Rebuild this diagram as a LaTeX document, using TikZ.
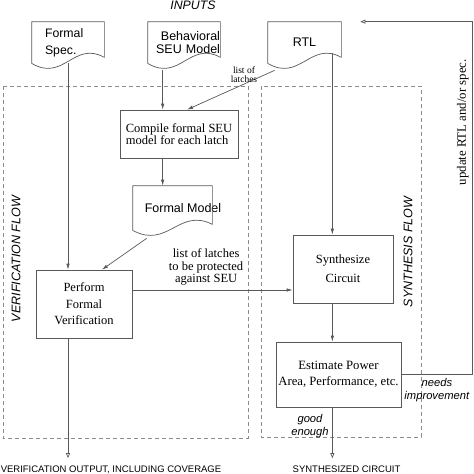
\documentclass[tikz,border=0pt]{standalone}
\usepackage{fontspec}
\setmainfont{Liberation Serif}
\setsansfont{Liberation Sans}
\usetikzlibrary{arrows.meta,calc,positioning}

\definecolor{linegray}{gray}{0.35}
\definecolor{dashgray}{gray}{0.55}

% document symbol with a wavy lower edge, drawn round a named node
\newcommand{\docshape}[1]{%
  \draw[docline] (#1.south west) -- (#1.north west) -- (#1.north east)
    -- ($(#1.south east)+(0,-6)$)
    .. controls ($(#1.south west)!0.58!(#1.south east)+(0,-23)$)
    and ($(#1.south west)!0.44!(#1.south east)+(0,19)$) .. (#1.south west);}

\begin{document}
\begin{tikzpicture}[x=1pt, y=-1pt, >={Latex[length=6pt,width=3.5pt]}, line width=0.7pt]

    \tikzstyle{proc} = [rectangle, draw=linegray, inner sep=0pt, font=\fontsize{12.5}{12.5}\selectfont]
    \tikzstyle{doc} = [rectangle, inner sep=0pt, font=\sffamily\fontsize{12.5}{13}\selectfont]
    \tikzstyle{docline} = [draw=linegray]
    \tikzstyle{flow} = [draw=dashgray, dash pattern=on 4pt off 3pt, line width=0.6pt]
    \tikzstyle{conn} = [draw=linegray, ->]
    \tikzstyle{outconn} = [draw=linegray, -{Triangle[open,length=5pt,width=4pt]}]
    \tikzstyle{flowlabel} = [font=\sffamily\itshape\fontsize{12.5}{13}\selectfont, rotate=90]
    \tikzstyle{note} = [font=\sffamily\itshape\fontsize{11.2}{13}\selectfont, align=center]
    \tikzstyle{outlabel} = [font=\sffamily\fontsize{9.5}{11}\selectfont, anchor=base]

    \useasboundingbox (0,0) rectangle (474,474);

    % the two flows
    \draw[flow] (3,86) rectangle (248,438);
    \draw[flow] (261,86) rectangle (421,437);
    \node (verlabel) [flowlabel]                 at (16,259)    {VERIFICATION FLOW};
    \node (synlabel) [flowlabel]                 at (408,252)   {SYNTHESIS FLOW};

    % inputs
    \node (inputs)  [outlabel, font=\sffamily\itshape\fontsize{12.3}{13}\selectfont] at (193,9.5) {INPUTS};
    \node (fspec)   [doc, minimum width=72pt, minimum height=41pt, text width=46pt, align=left,
                     font=\sffamily\fontsize{12.3}{17}\selectfont] at (68,42.5) {Formal\\Spec.};
    \node (bseu)    [doc, minimum width=72pt, minimum height=41pt, text width=72pt, align=right] at (184,42.5) {Behavioral\\SEU Model};
    \node (rtl)     [doc, minimum width=73pt, minimum height=41pt] at (304.5,42.5) {RTL};
    \docshape{fspec}
    \docshape{bseu}
    \docshape{rtl}

    % steps
    \node (compile)  [proc, minimum width=118pt, minimum height=48pt, align=left] at (179,134) {Compile formal SEU\\model for each latch};
    \node (fmodel)   [doc, minimum width=79pt, minimum height=44pt] at (172.5,208) {Formal Model\hspace*{-21pt}};
    \docshape{fmodel}
    \node (perform)  [proc, minimum width=96pt, minimum height=68pt, align=center,
                      font=\fontsize{12.5}{16.5}\selectfont] at (84,304) {Perform\\Formal\\Verification};
    \node (synth)    [proc, minimum width=100pt, minimum height=68pt, align=center,
                      font=\fontsize{12.5}{19}\selectfont] at (343,269) {Synthesize\\Circuit};
    \node (estimate) [proc, minimum width=125pt, minimum height=65pt, align=center,
                      font=\fontsize{12.7}{16}\selectfont] at (338.5,374.5) {Estimate Power\\Area, Performance, etc.};

    % outputs
    \node (veroutput) [outlabel] at (111,472.5)   {VERIFICATION OUTPUT, INCLUDING COVERAGE};
    \node (synoutput) [outlabel] at (346.5,472.5) {SYNTHESIZED CIRCUIT};

    \coordinate (bseuout)   at ($(bseu.south west)+(15,7)$);
    \coordinate (rtlleft)   at ($(rtl.south west)+(7,7)$);
    \coordinate (rtlout)    at ($(rtl.south east)+(-9,-10)$);
    \coordinate (fmodelout) at ($(fmodel.south west)+(14,8)$);
    \coordinate (latout)    at ($(perform.east)+(0,-14)$);
    \coordinate (fbtop)     at ($(rtl.north east)+(19,0)$);

    \draw[conn] (fspec.south) -- (fspec.south |- perform.north);
    \draw[conn] (bseuout) -- (bseuout |- compile.north);
    \draw[conn] (rtlleft) -- ([xshift=8pt]compile.north)
        node[pos=0.35, above, inner sep=1pt, align=center, font=\fontsize{9.5}{9}\selectfont] {list of\\latches};
    \draw[conn] (compile.south -| bseuout) -- (fmodel.north -| bseuout);
    \draw[conn] (fmodelout) -- ([xshift=18pt]perform.north);
    \draw[conn] (rtlout) -- (rtlout |- synth.north);
    \draw[conn] (latout) -- (latout -| synth.west)
        node[pos=0.46, above=1pt, align=center, font=\fontsize{12.5}{12.5}\selectfont] {list of latches\\to be protected\\against SEU};
    \draw[conn] (synth.south -| rtlout) -- (estimate.north -| rtlout);

    \draw[outconn, shorten >=4pt] (perform.south -| fspec.south) -- (fspec.south |- veroutput.north);
    \draw[outconn, shorten >=4pt] (estimate.south -| rtlout) -- (rtlout |- synoutput.north)
        node[pos=0.35, left, note] {good\\enough};

    % feedback loop
    \draw[outconn] (estimate.east) -- ++(71,0) coordinate (fbcorner)
        node[midway, below, note] {needs\\improvement}
        -- (fbcorner |- fbtop)
        node[pos=0.715, anchor=south, rotate=90, font=\fontsize{12.8}{13}\selectfont] {update RTL and/or spec.}
        -- (fbtop);

\end{tikzpicture}
\end{document}
